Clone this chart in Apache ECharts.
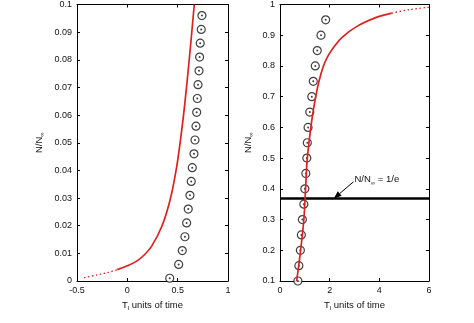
<!DOCTYPE html>
<html><head><meta charset="utf-8">
<script src="https://cdn.jsdelivr.net/npm/echarts@6/dist/echarts.min.js"></script>
<style>html,body{margin:0;padding:0;background:#fff}#c{width:474px;height:323px}</style>
</head><body><div id="c"></div>
<script>
// Left panel: observed points (time, N/Ninf)
const leftObsX = [0.421,0.510,0.546,0.572,0.589,0.605,0.622,0.635,0.645,0.662,0.672,0.682,0.689,0.695,0.702,0.712,0.718,0.724,0.734,0.741];
const leftObsY = [0.001,0.006,0.011,0.016,0.021,0.026,0.031,0.036,0.041,0.046,0.051,0.056,0.061,0.066,0.071,0.076,0.081,0.086,0.091,0.096];
// Left panel: model curve
const leftCurveX = [-0.43,-0.3,-0.2,-0.1,0.0,0.093,0.17,0.242,0.341,0.424,0.49,0.54,0.572,0.62,0.665];
const leftCurveY = [0.0012,0.0022,0.003,0.0041,0.0055,0.0072,0.0095,0.0126,0.0196,0.0292,0.0413,0.0545,0.0645,0.082,0.1];
// Right panel: observed points
const rightObsX = [0.72,0.76,0.82,0.86,0.90,0.96,1.00,1.04,1.08,1.10,1.13,1.20,1.28,1.34,1.42,1.50,1.65,1.84];
const rightObsY = [0.10,0.15,0.20,0.25,0.30,0.35,0.40,0.45,0.50,0.55,0.60,0.65,0.70,0.75,0.80,0.85,0.90,0.95];
// Right panel: model curve
const rightCurveX = [0.67,0.83,0.96,1.03,1.09,1.18,1.28,1.41,1.57,1.75,1.95,2.2,2.5,3.08,3.88,4.5,5.2,6.0];
const rightCurveY = [0.10,0.20,0.30,0.40,0.49,0.56,0.623,0.688,0.75,0.80,0.835,0.865,0.893,0.928,0.958,0.972,0.983,0.991];
const refLevel = Math.exp(-1);
const refLabel = '1/e';

const zip = (a,b) => a.map((v,i)=>[v,b[i]]);
const FONT = '"Liberation Sans", Arial, sans-serif';
const RED = '#dd2020';
const tickCommon = {fontFamily: FONT, fontSize: 9, color: '#111'};
const nameRich = {
  fontFamily: FONT, fontSize: 9.5, color:'#111',
  rich: { sub: {fontFamily: FONT, fontSize: 6, color:'#111', padding:[6,0,0,0]}, n:{fontFamily: FONT, fontSize: 9.5, color:'#111'} }
};
function xAxisDef(gi, min, max, interval, show){
  return {
    gridIndex: gi, type:'value', min, max, interval,
    axisLine: {show:true, onZero:false, lineStyle:{color:'#000', width:1}},
    axisTick: {show:true, inside:true, length:3, lineStyle:{color:'#000', width:1}},
    axisLabel: show ? {...tickCommon, margin:5} : {show:false},
    splitLine:{show:false},
    name: show ? '{n|T}{sub|l}{n| units of time}' : '',
    nameLocation:'middle', nameGap:18, nameTextStyle: nameRich,
    position: show ? 'bottom' : 'top'
  };
}
function yAxisDef(gi, min, max, interval, show, gap, fmt){
  return {
    gridIndex: gi, type:'value', min, max, interval,
    axisLine: {show:true, onZero:false, lineStyle:{color:'#000', width:1}},
    axisTick: {show:true, inside:true, length:3, lineStyle:{color:'#000', width:1}},
    axisLabel: show ? {...tickCommon, margin:5, formatter: fmt} : {show:false},
    splitLine:{show:false},
    name: show ? '{n|N/N}{sub|\u221e}' : '',
    nameLocation:'middle', nameGap:gap, nameTextStyle: nameRich,
    position: show ? 'left' : 'right'
  };
}
const leftTailEnd = 3;     // dotted tail: first points of left curve
const rightTailStart = 15; // dotted tail: last points of right curve
const leftCurve = zip(leftCurveX,leftCurveY);
const rightCurve = zip(rightCurveX,rightCurveY);
const curveLine = (xi, data, dotted) => ({
  type:'line', xAxisIndex:xi, yAxisIndex:xi, data, showSymbol:false, smooth:0.35,
  lineStyle:{color:RED, width: dotted ? 1.3 : 1.7, type: dotted ? [1.5,2.5] : 'solid'}, z:5
});
const chart = echarts.init(document.getElementById('c'), null, {renderer:'canvas'});
chart.setOption({
  animation:false,
  backgroundColor:'#fff',
  grid:[
    {left:77, top:4, width:151, height:277},
    {left:280, top:4, width:149, height:277}
  ],
  xAxis:[
    xAxisDef(0,-0.5,1,0.5,true), xAxisDef(0,-0.5,1,0.5,false),
    xAxisDef(1,0,6,2,true), xAxisDef(1,0,6,2,false)
  ],
  yAxis:[
    yAxisDef(0,0,0.1,0.01,true,32, v=>String(+v.toFixed(2))), yAxisDef(0,0,0.1,0.01,false,0),
    yAxisDef(1,0.1,1,0.1,true,26, v=>String(+v.toFixed(1))), yAxisDef(1,0.1,1,0.1,false,0)
  ],
  series:[
    {type:'scatter', xAxisIndex:0, yAxisIndex:0, data: zip(leftObsX,leftObsY), symbol:'circle', symbolSize:8,
     itemStyle:{color:'#fff', borderColor:'#111', borderWidth:1.2}, z:3},
    {type:'scatter', xAxisIndex:0, yAxisIndex:0, data: zip(leftObsX,leftObsY), symbol:'circle', symbolSize:2,
     itemStyle:{color:'#111'}, z:4},
    curveLine(0, leftCurve.slice(0, leftTailEnd+1), true),
    curveLine(0, leftCurve.slice(leftTailEnd), false),
    {type:'scatter', xAxisIndex:2, yAxisIndex:2, data: zip(rightObsX,rightObsY), symbol:'circle', symbolSize:8,
     itemStyle:{color:'#fff', borderColor:'#111', borderWidth:1.2}, z:3},
    {type:'scatter', xAxisIndex:2, yAxisIndex:2, data: zip(rightObsX,rightObsY), symbol:'circle', symbolSize:2,
     itemStyle:{color:'#111'}, z:4},
    Object.assign(curveLine(2, rightCurve.slice(0, rightTailStart+1), false), {
      markLine:{silent:true, symbol:['none','none'], animation:false,
        lineStyle:{color:'#000', width:2.5, type:'solid'}, label:{show:false},
        data:[{yAxis: refLevel}]}
    }),
    curveLine(2, rightCurve.slice(rightTailStart), true)
  ]
});
// annotation: arrow + text
const head = chart.convertToPixel({xAxisIndex:2, yAxisIndex:2}, [2.16, refLevel]);
const tail = chart.convertToPixel({xAxisIndex:2, yAxisIndex:2}, [2.96, 0.423]);
const ang = Math.atan2(head[1]-tail[1], head[0]-tail[0]);
const L = 8, W = 3;
const bx = head[0]-L*Math.cos(ang), by = head[1]-L*Math.sin(ang);
const px = -Math.sin(ang)*W, py = Math.cos(ang)*W;
chart.setOption({graphic:[
  {type:'line', shape:{x1:tail[0], y1:tail[1], x2:bx, y2:by}, style:{stroke:'#000', lineWidth:1}, z:10},
  {type:'polygon', shape:{points:[[head[0],head[1]],[bx+px,by+py],[bx-px,by-py]]}, style:{fill:'#000'}, z:10},
  {type:'text', x: tail[0]+1, y: tail[1]-2, z:10,
   style:{text:'{n|N/N}{sub|\u221e}{n| = '+refLabel+'}', verticalAlign:'middle', align:'left',
     rich:{n:{fontFamily:FONT, fontSize:9.5, fill:'#111'}, sub:{fontFamily:FONT, fontSize:6, fill:'#111', padding:[8,0,0,0]}}}}
]});
</script>
</body></html>
